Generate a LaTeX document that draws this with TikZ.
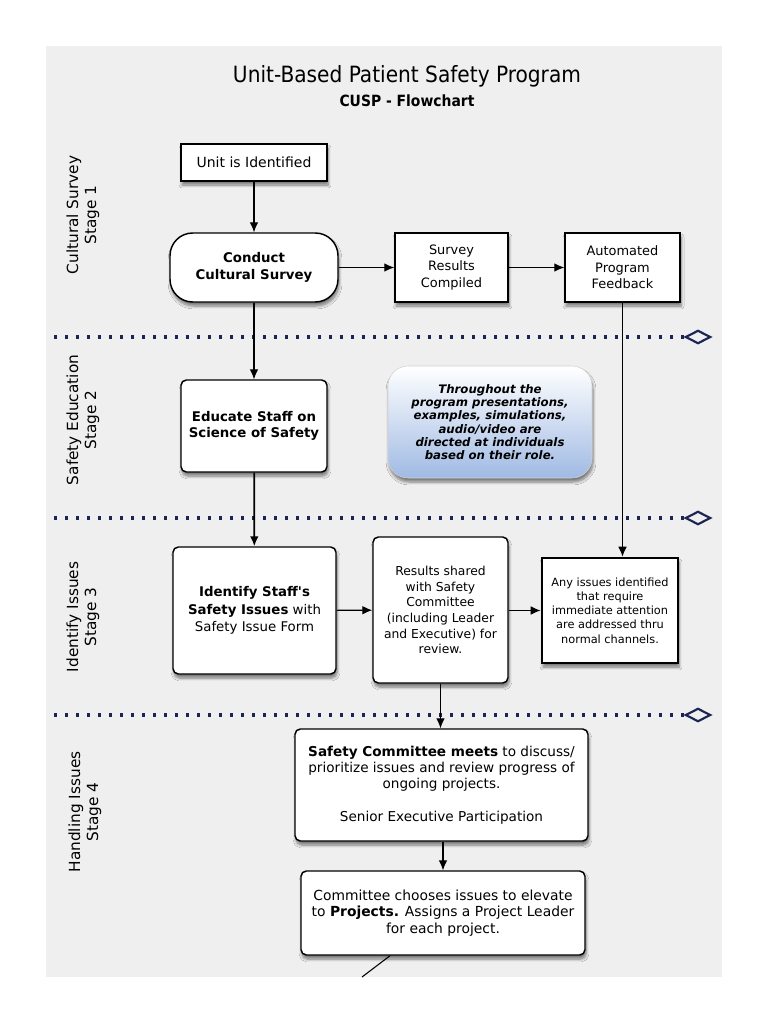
\documentclass[tikz,border=0pt]{standalone}
\usepackage{fontspec}
\setmainfont{DejaVu Sans}[Ligatures=TeXOff]
\newfontfamily\titlefont{DejaVu Sans Condensed}
\usetikzlibrary{shapes.geometric,shadows.blur,arrows.meta,calc}

\definecolor{panelgray}{RGB}{239,239,239}
\definecolor{lanenavy}{RGB}{28,36,84}
\definecolor{noteblue}{RGB}{160,186,228}

\begin{document}
\begin{tikzpicture}[x=0.75pt, y=-0.75pt, >={Latex[length=7.5pt,width=6.5pt]}, line width=0.8pt,
    shade/.style={blur shadow={shadow xshift=0.8pt, shadow yshift=-3pt, shadow blur steps=6, shadow opacity=50}},
    box/.style={draw, fill=white, align=center, inner sep=2pt, line width=1.1pt, shade},
    rbox/.style={box, rounded corners=4pt},
    pill/.style={box, rounded corners=17pt},
    stagelabel/.style={rotate=90, align=center, font=\fontsize{11.5}{13.5}\selectfont},
    laneline/.style={lanenavy, line width=2.4pt, dash pattern=on 2.4pt off 5.85pt},
    laneend/.style={diamond, draw=lanenavy, line width=1.6pt, aspect=2, minimum width=19pt, minimum height=10pt, inner sep=0pt}]

    % page and panel
    \useasboundingbox (0,0) rectangle (768,1024);
    \fill[panelgray] (46,46) rectangle (722,977);

    % title
    \node (title) at (407,76) {\titlefont\fontsize{16.8}{20}\selectfont Unit-Based Patient Safety Program};
    \node (subtitle) at (407,101) {\titlefont\bfseries\fontsize{11.6}{14}\selectfont CUSP - Flowchart};

    % stages
    \node[stagelabel] (stage1) at (83,215) {Cultural Survey\\Stage 1};
    \node[stagelabel] (stage2) at (83,420) {Safety Education\\Stage 2};
    \node[stagelabel] (stage3) at (83,617) {Identify Issues\\Stage 3};
    \node[stagelabel] (stage4) at (85,812) {Handling Issues\\Stage 4};

    \foreach \y [count=\i] in {337,518,715}{
        \coordinate (lane\i) at (54,\y);
        \node[laneend] (diam\i) at (698,\y) {};
        \draw[laneline] (lane\i) -- (diam\i.west);
    }

    % stage 1
    \node[box, minimum width=109.5pt, minimum height=27.75pt, font=\fontsize{10.5}{13}\selectfont] (unit) at (254,162.5) {Unit is Identified};
    \node[pill, minimum width=126pt, minimum height=51.75pt, font=\bfseries\fontsize{10}{12.5}\selectfont] (survey) at (254,267.5) {Conduct\\Cultural Survey};
    \node[box, minimum width=84.75pt, minimum height=51.75pt, font=\fontsize{9.7}{12.5}\selectfont] (compiled) at (451.5,267.5) {Survey\\Results\\Compiled};
    \node[box, minimum width=86.25pt, minimum height=51.75pt, font=\fontsize{9.7}{12.5}\selectfont] (feedback) at (622.5,267.5) {Automated\\Program\\Feedback};

    % stage 2
    \node[rbox, minimum width=109.5pt, minimum height=69pt, font=\bfseries\fontsize{10}{12.5}\selectfont] (educate) at (254,426) {Educate Staff on\\Science of Safety};
    \node[shade, rounded corners=15pt, top color=white, bottom color=noteblue, draw=gray!35, line width=0.4pt,
          minimum width=153pt, minimum height=84pt, align=center,
          font=\bfseries\itshape\fontsize{8.8}{10}\selectfont] (note) at (490,422)
          {Throughout the\\program presentations,\\examples, simulations,\\audio/video are\\directed at individuals\\based on their role.};

    % stage 3
    \node[rbox, minimum width=122.25pt, minimum height=95.25pt, font=\fontsize{10}{13}\selectfont] (identify) at (254.5,610.5) {\textbf{Identify Staff's}\\\textbf{Safety Issues} with\\Safety Issue Form};
    \node[rbox, minimum width=101.25pt, minimum height=109.5pt, font=\fontsize{9.25}{11.75}\selectfont] (shared) at (440.5,610) {Results shared\\with Safety\\Committee\\(including Leader\\and Executive) for\\review.};
    \node[box, line width=2pt, minimum width=102pt, minimum height=78.75pt, font=\fontsize{8.5}{10.7}\selectfont] (urgent) at (610,610.5) {Any issues identified\\that require\\immediate attention\\are addressed thru\\normal channels.};

    % stage 4
    \node[rbox, minimum width=219.75pt, minimum height=84pt, font=\fontsize{10.2}{12.25}\selectfont] (meets) at (441.5,785) {\textbf{Safety Committee meets} to discuss/\\prioritize issues and review progress of\\ongoing projects.\\[12.25pt]Senior Executive Participation};
    \node[rbox, minimum width=213pt, minimum height=63pt, font=\fontsize{10.4}{12.5}\selectfont] (chooses) at (443,913) {Committee chooses issues to elevate\\to \textbf{Projects.} Assigns a Project Leader\\for each project.};
    \coordinate (cont) at (362,977);

    % connectors
    \draw[->] (unit) -- (survey);
    \draw[->] (survey) -- (compiled);
    \draw[->] (compiled) -- (feedback);
    \draw[->] (survey) -- (educate);
    \draw[->, line width=1.3pt] (educate) -- (identify);
    \draw[->] (feedback) -- (feedback.south |- urgent.north);
    \draw[->] (identify) -- (shared);
    \draw[->] (shared.east |- urgent.west) -- (urgent);
    \draw[->] (shared) -- (meets.north -| shared);
    \draw[->] (meets.south -| chooses) -- (chooses);
    \draw ($(chooses.south)+(-53,0)$) -- (cont);
\end{tikzpicture}
\end{document}
